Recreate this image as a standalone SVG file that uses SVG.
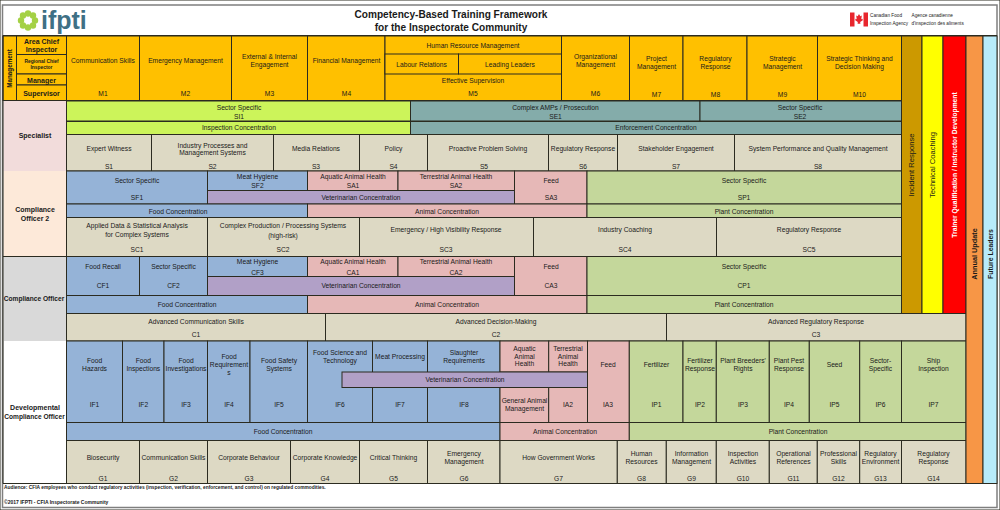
<svg xmlns="http://www.w3.org/2000/svg" width="1000" height="510" viewBox="0 0 1000 510">
<style>
text{font-family:"Liberation Sans",Arial,sans-serif;font-size:6.7px;text-anchor:middle;fill:#1a1a1a}
.b{font-weight:bold;font-size:7px}
.r{font-size:6.6px}
.l{text-anchor:start}
rect{stroke:#2b2b20;stroke-width:1}
.o{fill:#ffc000}.g{fill:#ddd9c4}.n{fill:#ccf45a}.e{fill:#84acaa}.f{fill:#95b3d7}.a{fill:#e6b8b7}.v{fill:#b1a0c7}.p{fill:#c4d79b}
.s5{font-size:4.7px}
</style>
<rect x="0" y="0" width="1000" height="510" fill="#fff" stroke="none"/>
<rect x="2.5" y="5" width="994.5" height="502.5" fill="#fff" style="stroke:#7f7f7f;stroke-width:1.5"/>

<g id="logo">
<g fill="#a4d145"><circle cx="28" cy="13.5" r="3.2"/><circle cx="28" cy="27.5" r="3.2"/><circle cx="21" cy="20.5" r="3.2"/><circle cx="35" cy="20.5" r="3.2"/><circle cx="23" cy="15.5" r="3.2"/><circle cx="33" cy="15.5" r="3.2"/><circle cx="23" cy="25.5" r="3.2"/><circle cx="33" cy="25.5" r="3.2"/><circle cx="28" cy="20.5" r="2.4" fill="#fff"/></g>
<text class="l b" x="41" y="29" style="font-size:25px;fill:#3f7085">ifpti</text>
</g>
<g id="title">
<text class="b" x="451" y="18" style="font-size:10.1px">Competency-Based Training Framework</text>
<text class="b" x="451" y="30.5" style="font-size:10.1px">for the Inspectorate Community</text>
</g>
<g id="cfia">
<path d="M850 12.5h4.5v14h-4.5zM863.5 12.5h4.5v14h-4.5zM859 14l1.3 2.2 1.5-.6-.5 3.6 1.2-.5.3 1.5-2.6 1.8.2 1.8h-2.8l.2-1.8-2.6-1.8.3-1.5 1.2.5-.5-3.6 1.5.6z" fill="#e8262d"/>
<text class="l s5" x="870" y="17">Canadian Food</text><text class="l s5" x="870" y="25">Inspection Agency</text>
<text class="l s5" x="911.5" y="17">Agence canadienne</text><text class="l s5" x="911.5" y="25">d'inspection des aliments</text>
</g>

<g id="role-management"><rect class="o" x="3" y="36" width="13.5" height="64.5"/><text class="b" transform="translate(11.5 68.5) rotate(-90)" style="font-size:6.3px">Management</text></g>
<g id="role-area-chief"><rect class="o" x="16.5" y="36" width="50" height="18.5"/><text class="b" x="41.5" y="43.5">Area Chief</text><text class="b" x="41.5" y="51.5">Inspector</text></g>
<g id="role-regional-chief"><rect class="o" x="16.5" y="54.5" width="50" height="19.5"/><text class="b" x="41.5" y="63" style="font-size:4.9px">Regional Chief</text><text class="b" x="41.5" y="68.5" style="font-size:4.9px">Inspector</text></g>
<g id="role-manager"><rect class="o" x="16.5" y="74" width="50" height="11"/><text class="b" x="41.5" y="82.5">Manager</text></g>
<g id="role-supervisor"><rect class="o" x="16.5" y="85" width="50" height="15.5"/><text class="b" x="41.5" y="96">Supervisor</text></g>

<g id="M1"><rect class="o" x="66.5" y="36" width="73" height="64.5"/><text x="103" y="62.5">Communication Skills</text><text x="103" y="96">M1</text></g>
<g id="M2"><rect class="o" x="139.5" y="36" width="92" height="64.5"/><text x="185.5" y="62.5">Emergency Management</text><text x="185.5" y="96">M2</text></g>
<g id="M3"><rect class="o" x="231.5" y="36" width="76" height="64.5"/><text x="269.5" y="59">External &amp; Internal</text><text x="269.5" y="67">Engagement</text><text x="269.5" y="96">M3</text></g>
<g id="M4"><rect class="o" x="307.5" y="36" width="77.5" height="64.5"/><text x="346.5" y="62.5">Financial Management</text><text x="346.5" y="96">M4</text></g>
<g id="M5"><rect class="o" x="385" y="36" width="176.5" height="64.5"/><text x="473" y="47.5">Human Resource Management</text><text x="473" y="82.5">Effective Supervision</text><text x="473" y="96">M5</text></g>
<g id="M5-hr"><rect class="o" x="385" y="54" width="73.5" height="20"/><text x="421.5" y="66.5">Labour Relations</text></g>
<g id="M5-ll"><rect class="o" x="458.5" y="54" width="103" height="20"/><text x="510" y="66.5">Leading Leaders</text></g>
<g id="M6"><rect class="o" x="561.5" y="36" width="68" height="64.5"/><text x="595.5" y="59">Organizational</text><text x="595.5" y="67">Management</text><text x="595.5" y="96">M6</text></g>
<g id="M7"><rect class="o" x="629.5" y="36" width="53.5" height="64.5"/><text x="656.5" y="61">Project</text><text x="656.5" y="69">Management</text><text x="656.5" y="97">M7</text></g>
<g id="M8"><rect class="o" x="683" y="36" width="64" height="64.5"/><text x="715.5" y="61">Regulatory</text><text x="715.5" y="69">Response</text><text x="715.5" y="97">M8</text></g>
<g id="M9"><rect class="o" x="747" y="36" width="70.5" height="64.5"/><text x="782.5" y="61">Strategic</text><text x="782.5" y="69">Management</text><text x="782.5" y="97">M9</text></g>
<g id="M10"><rect class="o" x="817.5" y="36" width="84" height="64.5"/><text x="859.5" y="61">Strategic Thinking and</text><text x="859.5" y="69">Decision Making</text><text x="859.5" y="97">M10</text></g>

<g id="role-specialist"><rect fill="#f2dcdb" style="stroke:none" x="3.5" y="101" width="63" height="70"/><text class="b" x="35" y="138">Specialist</text></g>
<g id="SI1"><rect class="n" x="66.5" y="101" width="344" height="20"/><text x="239" y="109.5">Sector Specific</text><text x="239" y="119">SI1</text></g>
<g id="SE1"><rect class="e" x="410.5" y="101" width="289.5" height="20"/><text x="555.5" y="109.5">Complex AMPs / Prosecution</text><text x="555.5" y="119">SE1</text></g>
<g id="SE2"><rect class="e" x="700" y="101" width="201.5" height="20"/><text x="800" y="109.5">Sector Specific</text><text x="800" y="119">SE2</text></g>
<g id="inspection-conc"><rect class="n" x="66.5" y="121.5" width="344" height="13"/><text x="239" y="130">Inspection Concentration</text></g>
<g id="enforcement-conc"><rect class="e" x="410.5" y="121.5" width="491" height="13"/><text x="656" y="130">Enforcement Concentration</text></g>
<g id="S1"><rect class="g" x="66.5" y="134.5" width="85" height="36.5"/><text x="109" y="151">Expert Witness</text><text x="109" y="169">S1</text></g>
<g id="S2"><rect class="g" x="151.5" y="134.5" width="122" height="36.5"/><text x="212.5" y="147.5">Industry Processes and</text><text x="212.5" y="155">Management Systems</text><text x="212.5" y="169">S2</text></g>
<g id="S3"><rect class="g" x="273.5" y="134.5" width="86" height="36.5"/><text x="316" y="151">Media Relations</text><text x="316" y="169">S3</text></g>
<g id="S4"><rect class="g" x="359.5" y="134.5" width="68" height="36.5"/><text x="393.5" y="151">Policy</text><text x="393.5" y="169">S4</text></g>
<g id="S5"><rect class="g" x="427.5" y="134.5" width="121" height="36.5"/><text x="488" y="151">Proactive Problem Solving</text><text x="484" y="169">S5</text></g>
<g id="S6"><rect class="g" x="548.5" y="134.5" width="69" height="36.5"/><text x="583" y="151">Regulatory Response</text><text x="583" y="169">S6</text></g>
<g id="S7"><rect class="g" x="617.5" y="134.5" width="117" height="36.5"/><text x="676" y="151">Stakeholder Engagement</text><text x="676" y="169">S7</text></g>
<g id="S8"><rect class="g" x="734.5" y="134.5" width="167" height="36.5"/><text x="818" y="151">System Performance and Quality Management</text><text x="818" y="169">S8</text></g>

<g id="role-co2"><rect fill="#fde9d9" style="stroke:none" x="3.5" y="171" width="63" height="85.5"/><text class="b" x="35" y="211.5">Compliance</text><text class="b" x="35" y="220.5">Officer 2</text></g>
<g id="SF1"><rect class="f" x="66.5" y="171" width="141" height="33"/><text x="137" y="182.5">Sector Specific</text><text x="137" y="199.5">SF1</text></g>
<g id="SF2"><rect class="f" x="207.5" y="171" width="100" height="19.5"/><text x="257.5" y="179">Meat Hygiene</text><text x="257.5" y="188">SF2</text></g>
<g id="SA1"><rect class="a" x="307.5" y="171" width="90.5" height="19.5"/><text x="353" y="179">Aquatic Animal Health</text><text x="353" y="188">SA1</text></g>
<g id="SA2"><rect class="a" x="398" y="171" width="116.5" height="19.5"/><text x="456" y="179">Terrestrial Animal Health</text><text x="456" y="188">SA2</text></g>
<g id="vet-co2"><rect class="v" x="207.5" y="190.5" width="307" height="13.5"/><text x="361" y="199.5">Veterinarian Concentration</text></g>
<g id="SA3"><rect class="a" x="514.5" y="171" width="72.5" height="33"/><text x="551" y="182.5">Feed</text><text x="551" y="199.5">SA3</text></g>
<g id="SP1"><rect class="p" x="587" y="171" width="314.5" height="33"/><text x="744" y="182.5">Sector Specific</text><text x="744" y="199.5">SP1</text></g>
<g id="food-co2"><rect class="f" x="66.5" y="204" width="241" height="13.5"/><text x="178" y="213.5">Food Concentration</text></g>
<g id="animal-co2"><rect class="a" x="307.5" y="204" width="279.5" height="13.5"/><text x="447" y="213.5">Animal Concentration</text></g>
<g id="plant-co2"><rect class="p" x="587" y="204" width="314.5" height="13.5"/><text x="744" y="213.5">Plant Concentration</text></g>
<g id="SC1"><rect class="g" x="66.5" y="217.5" width="141" height="39"/><text x="137" y="228">Applied Data &amp; Statistical Analysis</text><text x="137" y="237">for Complex Systems</text><text x="137" y="251.5">SC1</text></g>
<g id="SC2"><rect class="g" x="207.5" y="217.5" width="152" height="39"/><text x="283" y="228">Complex Production / Processing Systems</text><text x="283" y="237.5">(high-risk)</text><text x="283" y="251.5">SC2</text></g>
<g id="SC3"><rect class="g" x="359.5" y="217.5" width="174" height="39"/><text x="446" y="231.5">Emergency / High Visibility Response</text><text x="446" y="251.5">SC3</text></g>
<g id="SC4"><rect class="g" x="533.5" y="217.5" width="183" height="39"/><text x="625" y="231.5">Industry Coaching</text><text x="625" y="251.5">SC4</text></g>
<g id="SC5"><rect class="g" x="716.5" y="217.5" width="185" height="39"/><text x="809" y="231.5">Regulatory Response</text><text x="809" y="251.5">SC5</text></g>

<g id="role-co"><rect fill="#d9d9d9" style="stroke:none" x="3.5" y="257" width="63" height="84"/><text class="b r" x="34" y="301">Compliance Officer</text></g>
<g id="CF1"><rect class="f" x="66.5" y="256.5" width="73" height="39"/><text x="103" y="268.5">Food Recall</text><text x="103" y="287.5">CF1</text></g>
<g id="CF2"><rect class="f" x="139.5" y="256.5" width="68" height="39"/><text x="173.5" y="268.5">Sector Specific</text><text x="173.5" y="287.5">CF2</text></g>
<g id="CF3"><rect class="f" x="207.5" y="256.5" width="100" height="20"/><text x="257.5" y="264">Meat Hygiene</text><text x="257.5" y="275">CF3</text></g>
<g id="CA1"><rect class="a" x="307.5" y="256.5" width="90.5" height="20"/><text x="353" y="264">Aquatic Animal Health</text><text x="353" y="275">CA1</text></g>
<g id="CA2"><rect class="a" x="398" y="256.5" width="116.5" height="20"/><text x="456" y="264">Terrestrial Animal Health</text><text x="456" y="275">CA2</text></g>
<g id="vet-co"><rect class="v" x="207.5" y="276.5" width="307" height="19"/><text x="361" y="288">Veterinarian Concentration</text></g>
<g id="CA3"><rect class="a" x="514.5" y="256.5" width="72.5" height="39"/><text x="551" y="268.5">Feed</text><text x="551" y="287.5">CA3</text></g>
<g id="CP1"><rect class="p" x="587" y="256.5" width="314.5" height="39"/><text x="744" y="268.5">Sector Specific</text><text x="744" y="287.5">CP1</text></g>
<g id="food-co"><rect class="f" x="66.5" y="295.5" width="241" height="18"/><text x="187" y="306.5">Food Concentration</text></g>
<g id="animal-co"><rect class="a" x="307.5" y="295.5" width="279.5" height="18"/><text x="447" y="306.5">Animal  Concentration</text></g>
<g id="plant-co"><rect class="p" x="587" y="295.5" width="314.5" height="18"/><text x="744" y="306.5">Plant  Concentration</text></g>
<g id="C1"><rect class="g" x="66.5" y="313.5" width="259" height="27.5"/><text x="196" y="323.5">Advanced Communication Skills</text><text x="196" y="336.5">C1</text></g>
<g id="C2"><rect class="g" x="325.5" y="313.5" width="341" height="27.5"/><text x="496" y="323.5">Advanced Decision-Making</text><text x="496" y="336.5">C2</text></g>
<g id="C3"><rect class="g" x="666.5" y="313.5" width="299.5" height="27.5"/><text x="816" y="323.5">Advanced Regulatory Response</text><text x="816" y="336.5">C3</text></g>

<g id="role-dco"><text class="b" x="35" y="410">Developmental</text><text class="b r" x="34.5" y="418.5">Compliance Officer</text></g>
<g id="IF1"><rect class="f" x="66.5" y="341" width="56" height="81.5"/><text x="94.5" y="362.5">Food</text><text x="94.5" y="370.5">Hazards</text><text x="94.5" y="407">IF1</text></g>
<g id="IF2"><rect class="f" x="122.5" y="341" width="41.5" height="81.5"/><text x="143.3" y="362.5">Food</text><text x="143.3" y="370.5">Inspections</text><text x="143.3" y="407">IF2</text></g>
<g id="IF3"><rect class="f" x="164" y="341" width="43.5" height="81.5"/><text x="186" y="362.5">Food</text><text x="186" y="370.5">Investigations</text><text x="186" y="407">IF3</text></g>
<g id="IF4"><rect class="f" x="207.5" y="341" width="42.5" height="81.5"/><text x="229" y="358.5">Food</text><text x="229" y="366.5">Requirement</text><text x="229" y="374.5">s</text><text x="229" y="407">IF4</text></g>
<g id="IF5"><rect class="f" x="250" y="341" width="57.5" height="81.5"/><text x="279" y="362.5">Food Safety</text><text x="279" y="370.5">Systems</text><text x="279" y="407">IF5</text></g>
<g id="IF6"><rect class="f" x="307.5" y="341" width="65" height="81.5"/><text x="340" y="354.5">Food Science and</text><text x="340" y="362.5">Technology</text><text x="340" y="407">IF6</text></g>
<g id="IF7"><rect class="f" x="372.5" y="341" width="55" height="81.5"/><text x="400" y="358.5">Meat Processing</text><text x="400" y="407">IF7</text></g>
<g id="IF8"><rect class="f" x="427.5" y="341" width="72.5" height="81.5"/><text x="464" y="354.5">Slaughter</text><text x="464" y="362.5">Requirements</text><text x="464" y="407">IF8</text></g>
<g id="aquatic"><rect class="a" x="500" y="341" width="48.7" height="31"/><text x="524.5" y="350.5">Aquatic</text><text x="524.5" y="358.5">Animal</text><text x="524.5" y="366">Health</text></g>
<g id="terrestrial"><rect class="a" x="548.7" y="341" width="38.8" height="31"/><text x="568" y="350.5">Terrestrial</text><text x="568" y="358.5">Animal</text><text x="568" y="366">Health</text></g>
<g id="vet-dco"><rect class="v" x="342" y="372" width="245.5" height="15.5"/><text x="465" y="381.5">Veterinarian Concentration</text></g>
<g id="IA1"><rect class="a" x="500" y="387.5" width="48.7" height="35"/><text x="524.5" y="403">General Animal</text><text x="524.5" y="411">Management</text></g>
<g id="IA2"><rect class="a" x="548.7" y="387.5" width="38.8" height="35"/><text x="568" y="407">IA2</text></g>
<g id="IA3"><rect class="a" x="587.5" y="341" width="41.8" height="81.5"/><text x="608" y="366.5">Feed</text><text x="608" y="407">IA3</text></g>
<g id="IP1"><rect class="p" x="629.3" y="341" width="53.7" height="81.5"/><text x="656.5" y="366.5">Fertilizer</text><text x="656.5" y="407">IP1</text></g>
<g id="IP2"><rect class="p" x="683" y="341" width="33.3" height="81.5"/><text x="700" y="362.5">Fertilizer</text><text x="700" y="370.5">Response</text><text x="700" y="407">IP2</text></g>
<g id="IP3"><rect class="p" x="716.3" y="341" width="53" height="81.5"/><text x="743" y="362.5">Plant Breeders'</text><text x="743" y="370.5">Rights</text><text x="743" y="407">IP3</text></g>
<g id="IP4"><rect class="p" x="769.3" y="341" width="40" height="81.5"/><text x="789" y="362.5">Plant Pest</text><text x="789" y="370.5">Response</text><text x="789" y="407">IP4</text></g>
<g id="IP5"><rect class="p" x="809.3" y="341" width="50.4" height="81.5"/><text x="834.5" y="366.5">Seed</text><text x="834.5" y="407">IP5</text></g>
<g id="IP6"><rect class="p" x="859.7" y="341" width="41.8" height="81.5"/><text x="880.5" y="362.5">Sector-</text><text x="880.5" y="370.5">Specific</text><text x="880.5" y="407">IP6</text></g>
<g id="IP7"><rect class="p" x="901.5" y="341" width="64.5" height="81.5"/><text x="933.5" y="362.5">Ship</text><text x="933.5" y="370.5">Inspection</text><text x="933.5" y="407">IP7</text></g>
<g id="food-dco"><rect class="f" x="66.5" y="422.5" width="433.5" height="18"/><text x="283" y="433.5">Food  Concentration</text></g>
<g id="animal-dco"><rect class="a" x="500" y="422.5" width="129.3" height="18"/><text x="565" y="433.5">Animal Concentration</text></g>
<g id="plant-dco"><rect class="p" x="629.3" y="422.5" width="336.7" height="18"/><text x="798" y="433.5">Plant Concentration</text></g>
<g id="G1"><rect class="g" x="66.5" y="440.5" width="73" height="43"/><text x="103" y="459.5">Biosecurity</text><text x="103" y="480.5">G1</text></g>
<g id="G2"><rect class="g" x="139.5" y="440.5" width="68" height="43"/><text x="173.5" y="459.5">Communication Skills</text><text x="173.5" y="480.5">G2</text></g>
<g id="G3"><rect class="g" x="207.5" y="440.5" width="83" height="43"/><text x="249" y="459.5">Corporate Behaviour</text><text x="249" y="480.5">G3</text></g>
<g id="G4"><rect class="g" x="290.5" y="440.5" width="69" height="43"/><text x="325" y="459.5">Corporate Knowledge</text><text x="325" y="480.5">G4</text></g>
<g id="G5"><rect class="g" x="359.5" y="440.5" width="68" height="43"/><text x="393.5" y="459.5">Critical Thinking</text><text x="393.5" y="480.5">G5</text></g>
<g id="G6"><rect class="g" x="427.5" y="440.5" width="72.5" height="43"/><text x="464" y="455.5">Emergency</text><text x="464" y="463.5">Management</text><text x="464" y="480.5">G6</text></g>
<g id="G7"><rect class="g" x="500" y="440.5" width="117.3" height="43"/><text x="558.5" y="459.5">How Government Works</text><text x="558.5" y="480.5">G7</text></g>
<g id="G8"><rect class="g" x="617.3" y="440.5" width="49" height="43"/><text x="641.5" y="455.5">Human</text><text x="641.5" y="463.5">Resources</text><text x="641.5" y="480.5">G8</text></g>
<g id="G9"><rect class="g" x="666.3" y="440.5" width="50" height="43"/><text x="691.5" y="455.5">Information</text><text x="691.5" y="463.5">Management</text><text x="691.5" y="480.5">G9</text></g>
<g id="G10"><rect class="g" x="716.3" y="440.5" width="53" height="43"/><text x="743" y="455.5">Inspection</text><text x="743" y="463.5">Activities</text><text x="743" y="480.5">G10</text></g>
<g id="G11"><rect class="g" x="769.3" y="440.5" width="48" height="43"/><text x="793.5" y="455.5">Operational</text><text x="793.5" y="463.5">References</text><text x="793.5" y="480.5">G11</text></g>
<g id="G12"><rect class="g" x="817.3" y="440.5" width="42.4" height="43"/><text x="838.5" y="455.5">Professional</text><text x="838.5" y="463.5">Skills</text><text x="838.5" y="480.5">G12</text></g>
<g id="G13"><rect class="g" x="859.7" y="440.5" width="41.8" height="43"/><text x="880.5" y="455.5">Regulatory</text><text x="880.5" y="463.5">Environment</text><text x="880.5" y="480.5">G13</text></g>
<g id="G14"><rect class="g" x="901.5" y="440.5" width="64.5" height="43"/><text x="933.5" y="455.5">Regulatory</text><text x="933.5" y="463.5">Response</text><text x="933.5" y="480.5">G14</text></g>

<g id="bar-incident"><rect fill="#cc9900" x="901.5" y="36" width="20.5" height="277.5"/><text transform="translate(914 165) rotate(-90)" style="font-size:7.6px">Incident Response</text></g>
<g id="bar-technical"><rect fill="#ffff00" x="922" y="36" width="21" height="277.5"/><text transform="translate(935 165) rotate(-90)" style="font-size:7.6px">Technical Coaching</text></g>
<g id="bar-trainer"><rect fill="#ff0000" x="943" y="36" width="23" height="277.5"/><text class="b" transform="translate(956.5 165) rotate(-90)" style="fill:#fff;font-size:6.7px">Trainer Qualification / Instructor Development</text></g>
<g id="bar-annual"><rect fill="#f79646" x="966" y="36" width="17" height="447.5"/><text class="b" transform="translate(976.5 254) rotate(-90)" style="font-size:7.3px">Annual Update</text></g>
<g id="bar-future"><rect fill="#b7ebfa" x="983" y="36" width="14" height="447.5"/><text class="b" transform="translate(992.5 254) rotate(-90)" style="font-size:6.9px">Future Leaders</text></g>

<g id="frame-lines"><path d="M3 35.5H997M3 35.5V483.5H966M3 256.5H66.5" fill="none" stroke="#2b2b20"/></g>
<g id="footer">
<text class="l" x="4" y="489" style="font-size:4.85px;font-weight:bold">Audience: CFIA employees who conduct regulatory activities (inspection, verification, enforcement, and control) on regulated commodities.</text>
<text class="l b" x="4" y="504" style="font-size:5px">©2017 IFPTI - CFIA Inspectorate Community</text>
</g>
</svg>
